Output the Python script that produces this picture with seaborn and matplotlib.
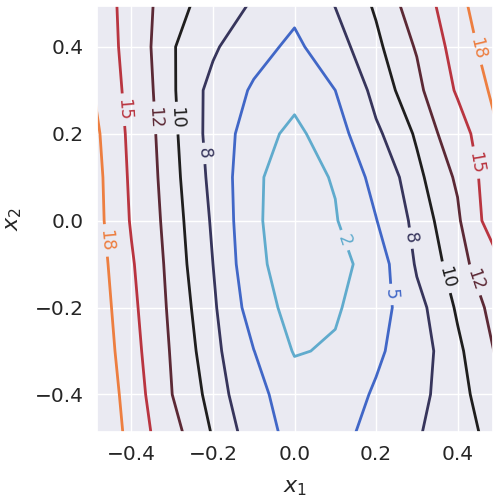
import numpy as np
import matplotlib.pyplot as plt
import seaborn as sns

# grid coordinates
x1_vals = [-0.5, -0.4, -0.3, -0.2, -0.1, 0.0, 0.1, 0.2, 0.3, 0.4, 0.5]
x2_vals = [-0.5, -0.4, -0.3, -0.2, -0.1, 0.0, 0.1, 0.2, 0.3, 0.4, 0.5]

# surface values, one row per x2 (bottom to top)
z_rows = [
    [21.6, 17.1, 12.86, 9.92, 6.95, 3.9, 4.2, 5.96, 7.85, 9.25, 10.6],
    [21.3, 16.6, 12.0, 9.3, 5.97, 3.4, 3.3, 5.36, 7.33, 9.32, 11.5],
    [20.8, 16.1, 11.7, 8.8, 5.05, 1.8, 2.3, 4.46, 6.86, 9.6, 12.3],
    [20.4, 15.7, 11.38, 8.44, 3.6, 0.9, 1.7, 3.5, 7.26, 10.26, 12.9],
    [20.0, 15.3, 11.13, 8.0, 2.74, 0.5, 0.9, 3.4, 8.3, 10.96, 14.5],
    [19.6, 14.75, 10.9, 7.74, 2.34, 0.8, 1.8, 4.9, 8.8, 11.6, 17.3],
    [19.5, 14.5, 10.65, 7.44, 2.33, 1.0, 2.2, 6.0, 9.48, 12.34, 17.5],
    [19.1, 14.27, 10.46, 7.18, 3.2, 1.3, 3.7, 7.57, 10.27, 13.6, 17.9],
    [18.3, 14.0, 10.26, 7.28, 4.6, 2.9, 5.0, 8.8, 11.33, 15.35, 18.9],
    [17.8, 13.7, 10.15, 8.35, 6.17, 4.3, 7.07, 9.55, 12.2, 16.2, 20.0],
    [17.5, 13.6, 10.6, 9.31, 7.8, 5.9, 8.1, 10.3, 13.26, 17.06, 21.0],
]

levels = [2, 5, 8, 10, 12, 15, 18]

# where the inline labels sit
label_spots = [
    (-0.47, -0.046), (-0.425, 0.255), (-0.355, 0.236), (-0.289, 0.236),
    (-0.218, 0.155), (0.132, -0.042), (0.271, -0.042), (0.235, -0.17),
    (0.369, -0.131), (0.447, -0.135), (0.447, 0.134), (0.46, 0.398),
]

sns.set_theme(style="darkgrid")

fig = plt.figure(figsize=(4.96, 5.01), dpi=100)
ax = fig.add_axes([0.196, 0.138, 0.798, 0.85])

X1, X2 = np.meshgrid(x1_vals, x2_vals)
Z = np.array(z_rows)

palette = sns.color_palette("icefire", len(levels))
cs = ax.contour(X1, X2, Z, levels=levels, colors=palette, linewidths=2)
ax.clabel(cs, fmt="%d", fontsize=12.5, inline=True, manual=label_spots)

ax.set_xlim(-0.484, 0.487)
ax.set_ylim(-0.486, 0.494)
ax.set_xticks([-0.4, -0.2, 0.0, 0.2, 0.4])
ax.set_yticks([-0.4, -0.2, 0.0, 0.2, 0.4])
ax.tick_params(labelsize=14.5)
ax.set_xlabel("$x_1$", fontsize=16, labelpad=10)
ax.set_ylabel("$x_2$", fontsize=16, labelpad=8)

fig.savefig("out.png", dpi=100)
plt.close(fig)
